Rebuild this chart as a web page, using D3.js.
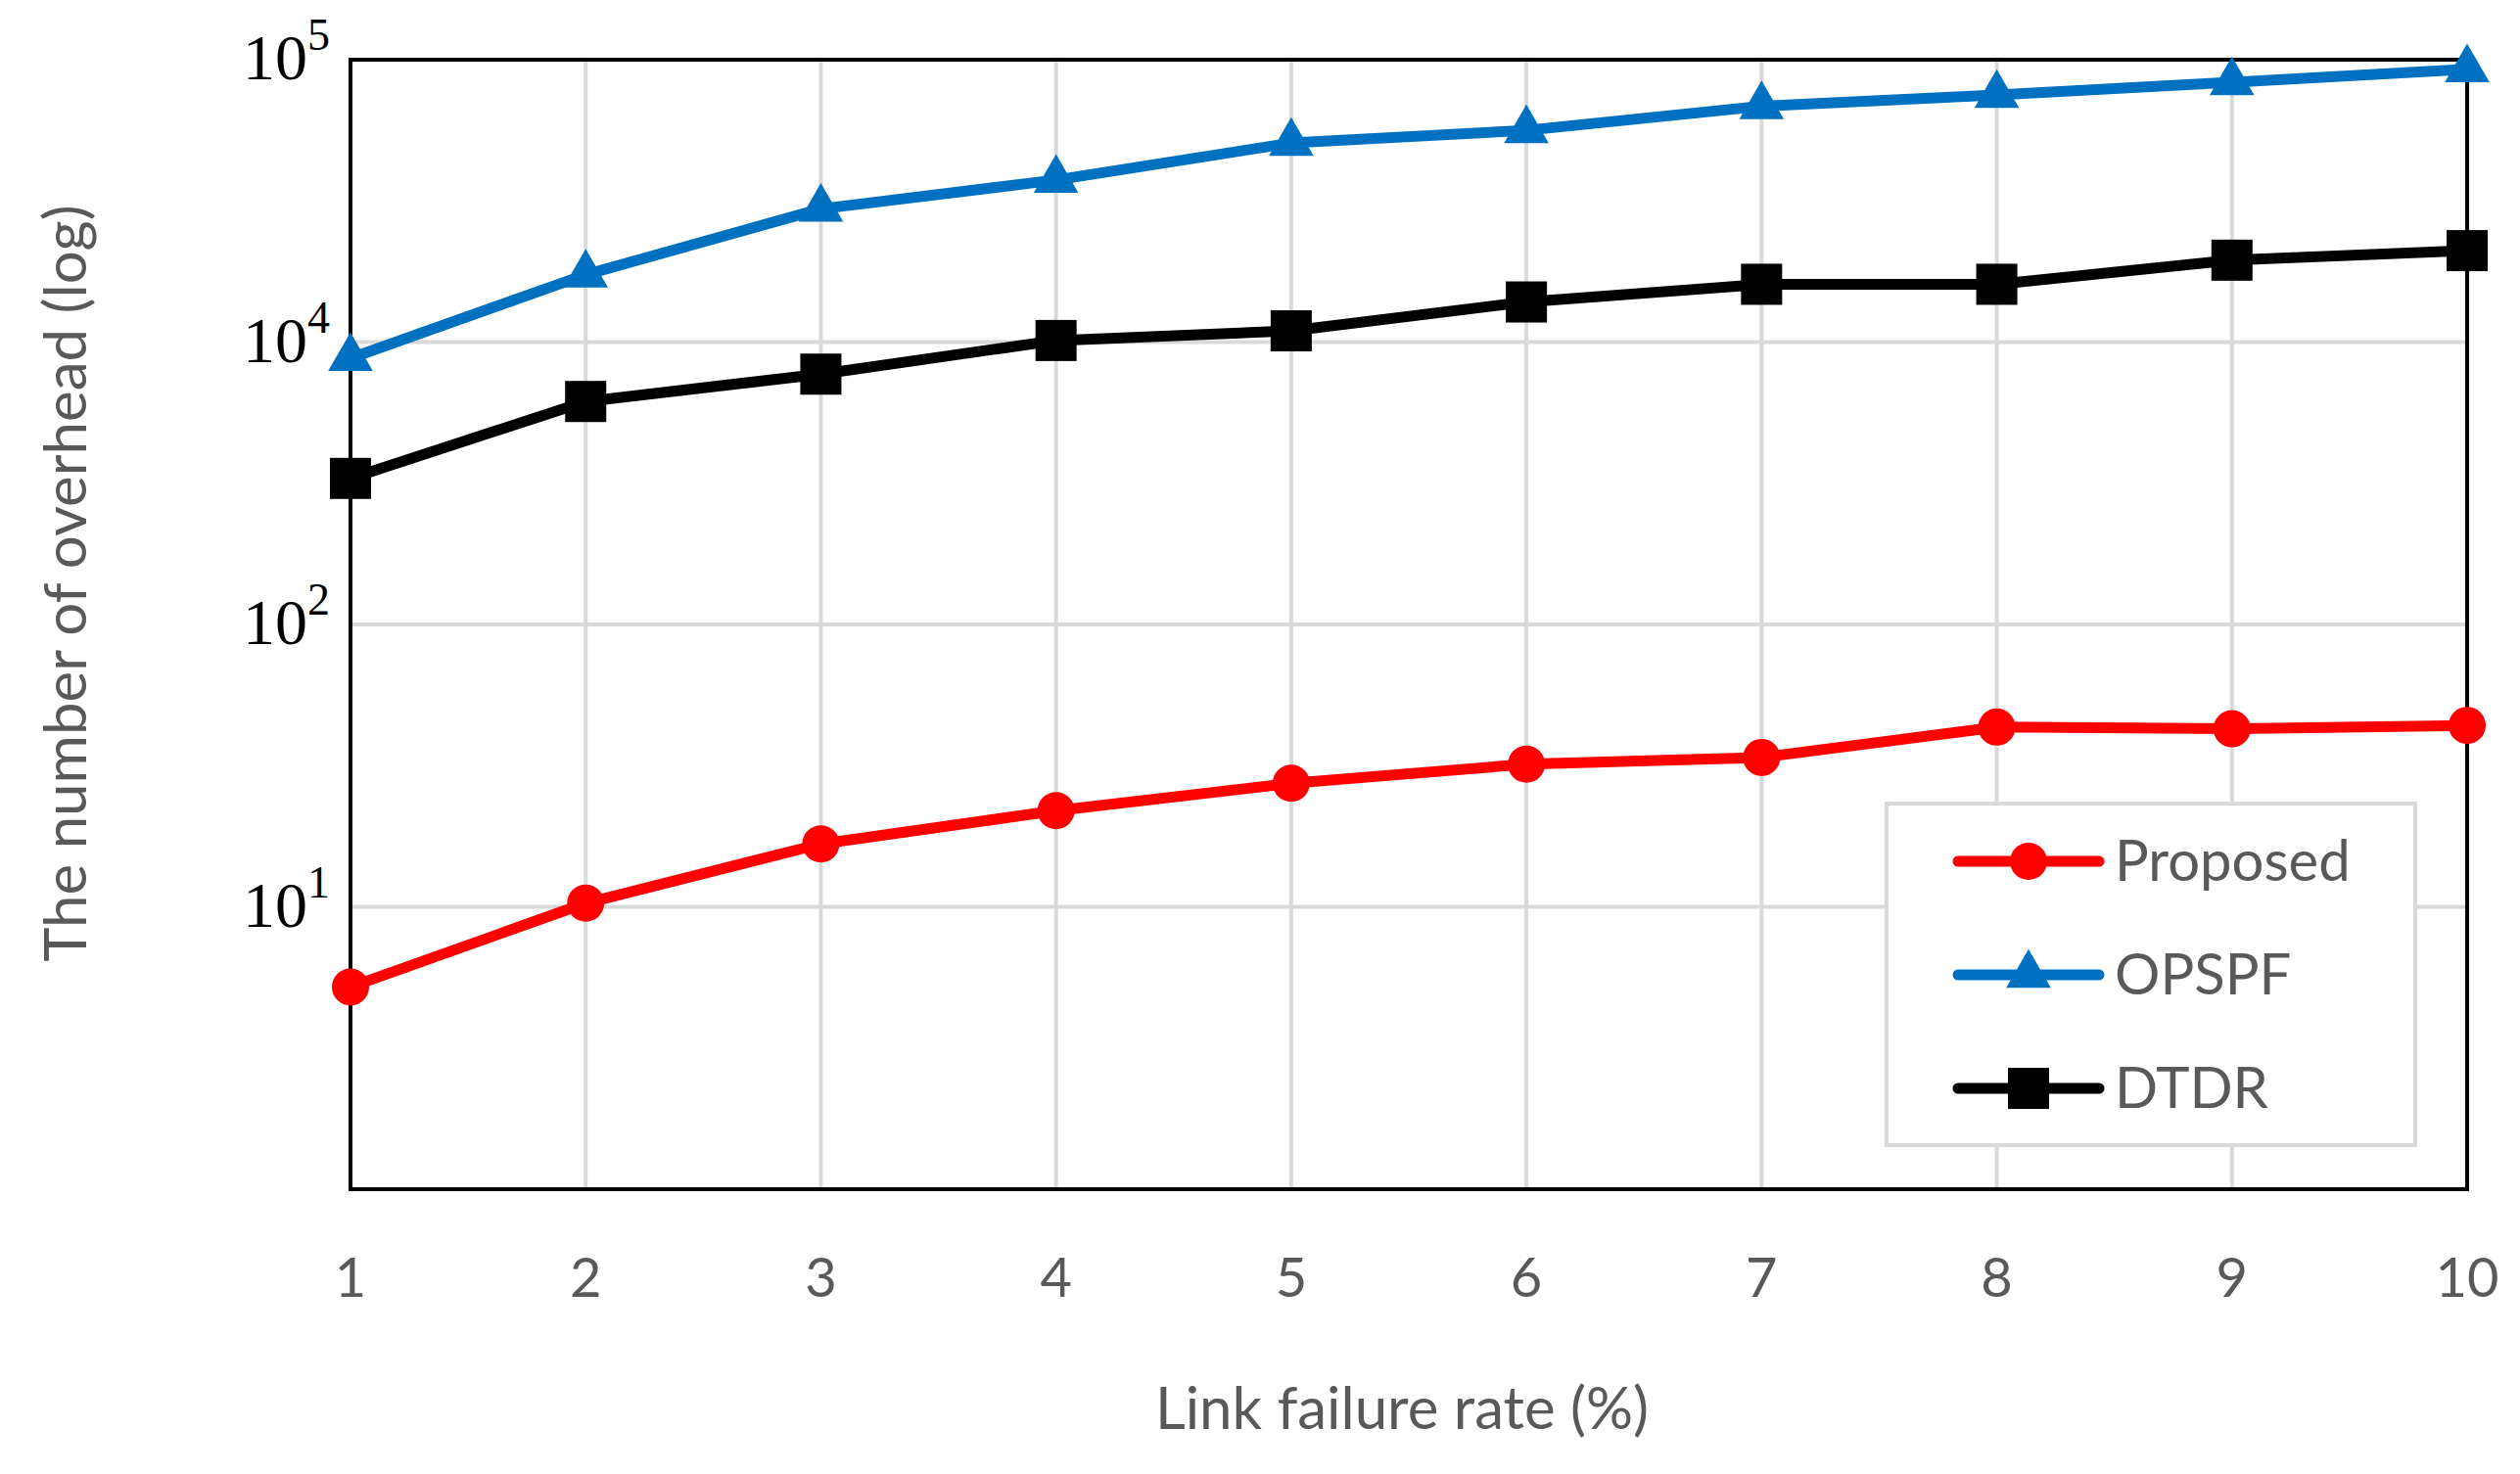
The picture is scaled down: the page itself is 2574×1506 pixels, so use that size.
<!DOCTYPE html>
<html>
<head>
<meta charset="utf-8">
<script src="https://cdn.jsdelivr.net/npm/d3@7"></script>
<style>
  body { margin: 0; background: #fff; }
</style>
</head>
<body>
<svg id="chart" width="2574" height="1506"></svg>
<script>
const rates = [1, 2, 3, 4, 5, 6, 7, 8, 9, 10]
const proposed = [5.2, 10.3, 16.7, 21.9, 27.4, 32, 33.8, 43.3, 42.7, 43.9]
const opspf = [877, 1733, 2963, 3750, 5070, 5623, 6840, 7500, 8320, 9250]
const dtdr = [329, 616, 770, 1013, 1096, 1387, 1602, 1602, 1950, 2108]
// gridline positions and the exponents printed beside them
const yTickValues = [10, 100, 1000, 10000]
const yTickExponents = ['1', '2', '4', '5']

const series = [
  { name: 'Proposed', values: proposed, color: '#ff0000', marker: 'circle' },
  { name: 'OPSPF', values: opspf, color: '#0070c0', marker: 'triangle' },
  { name: 'DTDR', values: dtdr, color: '#000000', marker: 'square' }
]

const plotLeft = 358, plotRight = 2520, plotTop = 61, plotBottom = 1215
const svg = d3.select('svg#chart')

const x = d3.scaleLinear().domain([1, 10]).range([plotLeft, plotRight])
const y = d3.scaleLog().domain([1, 10000]).range([plotBottom, plotTop])

// grid
svg.append('g').selectAll('line')
  .data(rates.slice(1, -1))
  .enter().append('line')
    .attr('x1', d => x(d)).attr('x2', d => x(d))
    .attr('y1', plotTop).attr('y2', plotBottom)
    .attr('stroke', '#d9d9d9').attr('stroke-width', 4)
svg.append('g').selectAll('line')
  .data(yTickValues.slice(0, -1))
  .enter().append('line')
    .attr('x1', plotLeft).attr('x2', plotRight)
    .attr('y1', d => y(d)).attr('y2', d => y(d))
    .attr('stroke', '#d9d9d9').attr('stroke-width', 4)

svg.append('rect')
  .attr('x', plotLeft).attr('y', plotTop)
  .attr('width', plotRight - plotLeft).attr('height', plotBottom - plotTop)
  .attr('fill', 'none').attr('stroke', '#000').attr('stroke-width', 4)

// y tick labels
const yl = svg.append('g').selectAll('text')
  .data(yTickValues)
  .enter().append('text')
    .attr('x', 337)
    .attr('y', d => y(d) + 20)
    .attr('text-anchor', 'end')
    .attr('font-family', 'Liberation Serif')
    .attr('font-size', 66)
    .attr('fill', '#000')
yl.append('tspan').text('10')
yl.append('tspan')
  .attr('dy', -30).attr('font-size', 46)
  .text((d, i) => yTickExponents[i])

// x tick labels
svg.append('g').selectAll('text')
  .data(rates)
  .enter().append('text')
    .attr('x', d => x(d)).attr('y', 1325)
    .attr('text-anchor', 'middle')
    .attr('font-family', 'Lato').attr('font-size', 56)
    .attr('fill', '#595959')
    .text(d => d)

svg.append('text')
  .attr('x', 1432).attr('y', 1460)
  .attr('text-anchor', 'middle')
  .attr('font-family', 'Lato').attr('font-size', 60)
  .attr('fill', '#595959')
  .text('Link failure rate (%)')

svg.append('text')
  .attr('transform', 'translate(88, 596) rotate(-90)')
  .attr('text-anchor', 'middle')
  .attr('font-family', 'Lato').attr('font-size', 60)
  .attr('fill', '#595959')
  .text('The number of overhead (log)')

const line = d3.line().x((d, i) => x(rates[i])).y(d => y(d))

function drawMarker(g, type, color) {
  if (type === 'circle') g.append('circle').attr('r', 19).attr('fill', color)
  else if (type === 'square') g.append('rect').attr('x', -21).attr('y', -21).attr('width', 42).attr('height', 42).attr('fill', color)
  else g.append('path').attr('d', d3.symbol(d3.symbolTriangle, 900)()).attr('fill', color)
}

series.forEach(s => {
  svg.append('path')
    .datum(s.values)
    .attr('d', line)
    .attr('fill', 'none')
    .attr('stroke', s.color).attr('stroke-width', 11)
    .attr('stroke-linejoin', 'round')
  s.values.forEach((v, i) => {
    const g = svg.append('g').attr('transform', `translate(${x(rates[i])},${y(v)})`)
    drawMarker(g, s.marker, s.color)
  })
})

// legend
svg.append('rect')
  .attr('x', 1927).attr('y', 821).attr('width', 540).attr('height', 349)
  .attr('fill', '#fff').attr('stroke', '#d9d9d9').attr('stroke-width', 4)
series.forEach((s, i) => {
  const ly = 880 + i * 116
  svg.append('line')
    .attr('x1', 2000).attr('x2', 2144).attr('y1', ly).attr('y2', ly)
    .attr('stroke', s.color).attr('stroke-width', 11).attr('stroke-linecap', 'round')
  drawMarker(svg.append('g').attr('transform', `translate(2072,${ly})`), s.marker, s.color)
  svg.append('text')
    .attr('x', 2160).attr('y', ly + 20)
    .attr('font-family', 'Lato').attr('font-size', 58)
    .attr('fill', '#595959')
    .text(s.name)
})
</script>
</body>
</html>
